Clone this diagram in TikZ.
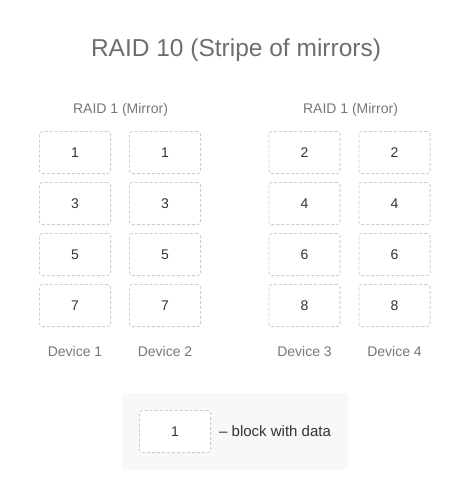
\documentclass[tikz,border=0pt]{standalone}
\usepackage{fontspec}
\setmainfont{Liberation Sans}
\usepackage{tikz}
\usetikzlibrary{positioning,fit,backgrounds}
\definecolor{raidtitle}{HTML}{6E6E6E}
\definecolor{raidlabel}{HTML}{777777}
\definecolor{raidtext}{HTML}{333333}
\definecolor{raidborder}{HTML}{CDCDCD}
\definecolor{raidlegend}{HTML}{F8F8F8}
\tikzstyle{block} = [rectangle, draw=raidborder, line width=0.8pt, dash pattern=on 3pt off 2pt,
    rounded corners=3pt, fill=white, minimum width=71.2pt, minimum height=42.2pt,
    text=raidtext, font=\fontsize{14}{16}\selectfont]
\tikzstyle{grouplabel} = [text=raidlabel, font=\fontsize{14}{16}\selectfont]
\tikzstyle{heading} = [text=raidtitle, font=\fontsize{24.5}{28}\selectfont]

\begin{document}
\begin{tikzpicture}[x=1pt, y=1pt, node distance=8pt and 18pt]
\useasboundingbox (0,0) rectangle (474,-477);
\node[heading] (title) at (236,-50) {RAID 10 (Stripe of mirrors)};

% first mirror
\node[grouplabel] (mirrorA) at (120.5,-110) {RAID 1 (Mirror)};
\node[block] (d1a) at (75,-152.5) {1};
\node[block, below=of d1a] (d1b) {3};
\node[block, below=of d1b] (d1c) {5};
\node[block, below=of d1c] (d1d) {7};
\node[block, right=of d1a] (d2a) {1};
\node[block, below=of d2a] (d2b) {3};
\node[block, below=of d2b] (d2c) {5};
\node[block, below=of d2c] (d2d) {7};

% second mirror
\node[grouplabel] (mirrorB) at (350.5,-110) {RAID 1 (Mirror)};
\node[block, right=67.5pt of d2a] (d3a) {2};
\node[block, below=of d3a] (d3b) {4};
\node[block, below=of d3b] (d3c) {6};
\node[block, below=of d3c] (d3d) {8};
\node[block, right=of d3a] (d4a) {2};
\node[block, below=of d4a] (d4b) {4};
\node[block, below=of d4b] (d4c) {6};
\node[block, below=of d4c] (d4d) {8};

% device names
\node[grouplabel, below=16pt of d1d] (dev1) {Device 1};
\node[grouplabel, below=16pt of d2d] (dev2) {Device 2};
\node[grouplabel, below=16pt of d3d] (dev3) {Device 3};
\node[grouplabel, below=16pt of d4d] (dev4) {Device 4};

% legend
\node[block] (legendblock) at (175,-431.5) {1};
\node[grouplabel, text=raidtext, inner sep=0pt, font=\fontsize{15}{17}\selectfont,
    right=8pt of legendblock] (legendtext) {– block with data};
\begin{scope}[on background layer]
\node[fit=(legendblock)(legendtext), inner sep=17pt, fill=raidlegend, rounded corners=4pt] (legend) {};
\end{scope}
\end{tikzpicture}
\end{document}
